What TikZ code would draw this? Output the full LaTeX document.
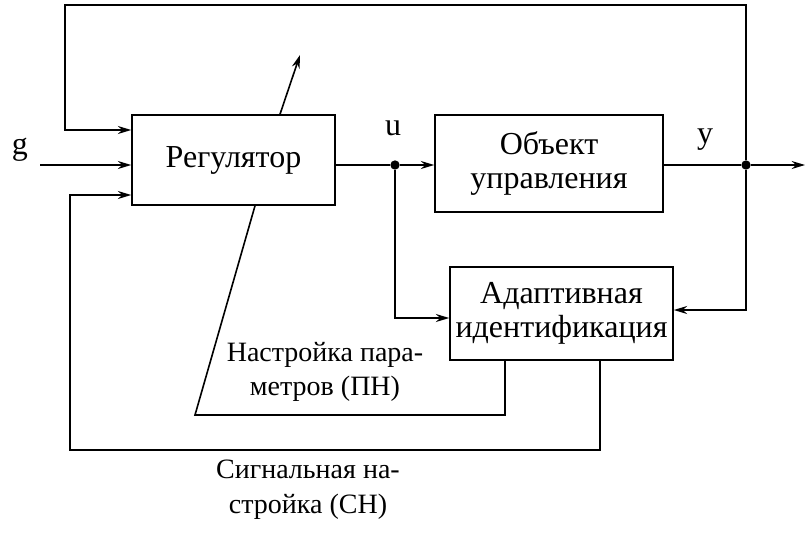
\documentclass[tikz,border=0pt]{standalone}
\usepackage{fontspec}
\setmainfont{Liberation Serif}
\usetikzlibrary{arrows.meta}
\begin{document}
\begin{tikzpicture}[x=0.75pt,y=-0.75pt,
  blk/.style={draw,line width=1.2pt,inner sep=0pt,align=center,font=\fontsize{24}{26}\selectfont},
  lbl/.style={align=center,font=\fontsize{21}{26}\selectfont,inner sep=0pt},
  ln/.style={line width=1.2pt},
  arr/.style={ln,-{Stealth[length=10pt,width=6pt]}},
  dot/.style={circle,fill,inner sep=0pt,minimum size=7pt}]
\useasboundingbox (0,0) rectangle (812,532);
\node[blk,minimum width=203*0.75pt,minimum height=90*0.75pt] (reg) at (233.5,160) {Регулятор};
\node[blk,minimum width=228*0.75pt,minimum height=97*0.75pt] (obj) at (549,163.5) {Объект\\управления};
\node[blk,minimum width=223*0.75pt,minimum height=93*0.75pt] (ai) at (561.5,313.5) {Адаптивная\\идентификация};
\node[dot] (ju) at (395,165) {};
\node[dot] (jy) at (746,165) {};
\coordinate (out) at (805,165);
\coordinate (gin) at (40,165);
\node[lbl,font=\fontsize{24}{26}\selectfont] (g) at (20,150) {g};
\node[lbl,font=\fontsize{24}{26}\selectfont] (u) at (393,128) {u};
\node[lbl,font=\fontsize{24}{26}\selectfont] (y) at (705,140) {y};
\node[lbl] (pn) at (325,372) {Настройка пара-\\метров (ПН)};
\node[lbl] (sn) at (308,490) {Сигнальная на-\\стройка (СН)};
\coordinate (tip) at (300,55);
% connectors
\draw[ln] (reg.east |- ju) -- (ju);
\draw[arr] (ju) -- (obj.west |- ju);
\draw[ln] (obj.east |- jy) -- (jy);
\draw[arr] (jy) -- (out);
\draw[arr] (gin) -- (reg.west |- gin);
\draw[arr] (jy) -- (746,5) -- (65,5) -- (65,130) -- (reg.west |- 0,130);
\draw[arr] (ju) -- (395,318) -- (ai.west |- 0,318);
\draw[arr] (jy) -- (746,310) -- (ai.east |- 0,310);
\draw[arr] (ai.south -| 600,0) -- (600,450) -- (70,450) -- (70,195) -- (reg.west |- 0,195);
\draw[ln] (ai.south -| 505,0) -- (505,415) -- (195,415) -- (reg.south -| 255,0);
\draw[arr] (reg.north -| 280,0) -- (tip);
\end{tikzpicture}
\end{document}
